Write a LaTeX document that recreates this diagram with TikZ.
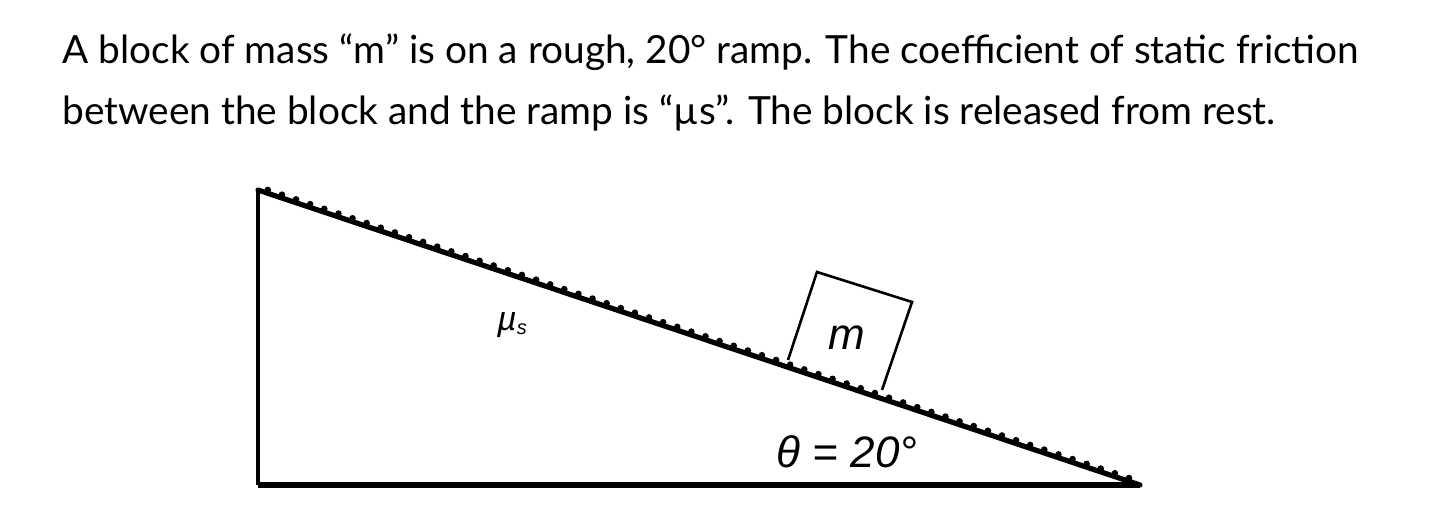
\documentclass[tikz,border=0pt]{standalone}
\usepackage{fontspec}
\setmainfont{Lato}
\newfontfamily\helv{Liberation Sans}
\usetikzlibrary{calc}
\begin{document}
\begin{tikzpicture}[x=0.5pt,y=-0.5pt,
  txt/.style={anchor=west,inner sep=0pt,font=\fontsize{19.4}{24}\selectfont},
  lbl/.style={inner sep=0pt,font=\helv\itshape\fontsize{22}{26}\selectfont}]
\useasboundingbox (0,0) rectangle (1430,524);
\node[txt] (l1) at (62,52) {A block of mass “m” is on a rough, 20° ramp. The coefficient of static friction};
\node[txt] (l2) at (62,113) {between the block and the ramp is “µs”. The block is released from rest.};
\coordinate (A) at (258,190);
\coordinate (B) at (258,485);
\coordinate (C) at (1140,485);
\draw[line width=1.6pt] (A) -- (B);
\draw[line width=3pt] (B) -- (C);
\draw[line width=2.6pt,line cap=round] (A) -- (C);
\foreach \t in {0.01,0.026,...,0.99}{
  \fill ($(A)!\t!(C)+(1,-3)$) circle (3.3);
}
\draw[line width=1.3pt,fill=white] (788,360) -- (817,272) -- (912,302) -- (882,390);
\node[lbl] (m) at (847,338) {m};
\node[lbl,font=\helv\itshape\fontsize{17}{20}\selectfont] (mu) at (512,325) {µ\raisebox{-0.25ex}{\fontsize{10}{12}\selectfont s}};
\node[lbl] (th) at (847,452) {θ = 20°};
\end{tikzpicture}
\end{document}
